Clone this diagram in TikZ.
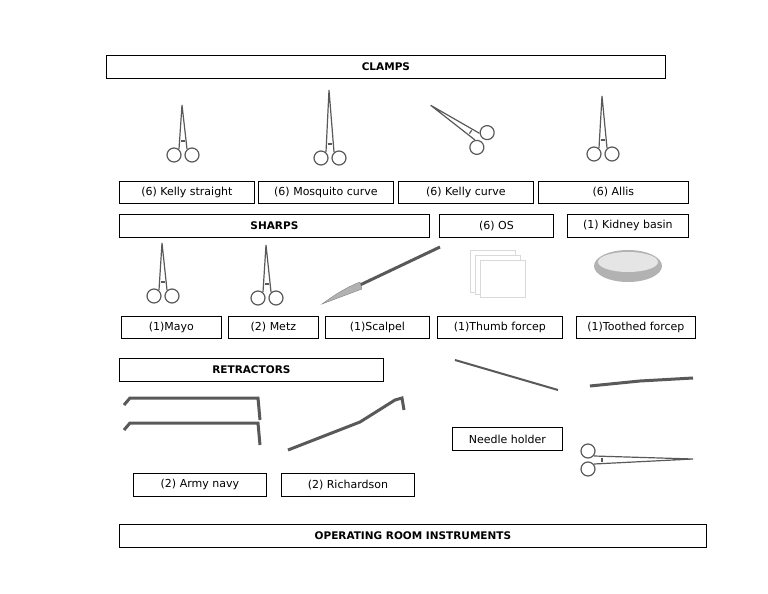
\documentclass[tikz,border=0pt]{standalone}
\usepackage{fontspec}
\setmainfont{DejaVu Sans}
\begin{document}
\begin{tikzpicture}[x=1pt,y=-1pt,
  lbl/.style={draw,thick,anchor=north west,inner sep=0pt,align=center,font=\fontsize{11}{13}\selectfont},
  hd/.style={lbl,font=\fontsize{10.5}{13}\selectfont\bfseries},
  inst/.style={draw=gray!70!black,line width=1.2pt,fill=none},
  clamp/.pic={\draw[inst] (-9,0) circle[radius=7]; \draw[inst] (9,0) circle[radius=7];
    \draw[inst] (-4,-6) -- (-1,-#1) -- (4,-6); \draw[inst] (-2,-14) -- (2,-14);},
  clamp/.default=50]
\useasboundingbox (0,0) rectangle (768,594);
% boxes
\node[hd,minimum width=559,minimum height=23] (clamps) at (106,55) {CLAMPS};
\node[lbl,minimum width=135,minimum height=22] (ks) at (119,181) {(6) Kelly straight};
\node[lbl,minimum width=135,minimum height=22] (mc) at (258,181) {(6) Mosquito curve};
\node[lbl,minimum width=135,minimum height=22] (kc) at (398,181) {(6) Kelly curve};
\node[lbl,minimum width=150,minimum height=22] (al) at (538,181) {(6) Allis};
\node[hd,minimum width=310,minimum height=23] (sharps) at (119,214) {SHARPS};
\node[lbl,minimum width=114,minimum height=23] (os) at (439,214) {(6) OS};
\node[lbl,minimum width=121,minimum height=23] (kb) at (567,214) {(1) Kidney basin};
\node[lbl,minimum width=100,minimum height=22] (mayo) at (121,316) {(1)Mayo};
\node[lbl,minimum width=90,minimum height=22] (metz) at (228,316) {(2) Metz};
\node[lbl,minimum width=104,minimum height=22] (sc) at (325,316) {(1)Scalpel};
\node[lbl,minimum width=125,minimum height=22] (tf) at (437,316) {(1)Thumb forcep};
\node[lbl,minimum width=119,minimum height=22] (tof) at (576,316) {(1)Toothed forcep};
\node[hd,minimum width=264,minimum height=23] (ret) at (119,358) {RETRACTORS};
\node[lbl,minimum width=110,minimum height=23] (nh) at (452,427) {Needle holder};
\node[lbl,minimum width=133,minimum height=23] (an) at (133,473) {(2) Army navy};
\node[lbl,minimum width=133,minimum height=23] (ri) at (281,473) {(2) Richardson};
\node[hd,minimum width=587,minimum height=23] (ori) at (119,524) {OPERATING ROOM INSTRUMENTS};
% instruments
\pic at (183,155) {clamp=50};
\pic at (330,158) {clamp=68};
\pic[rotate=55] at (482,140) {clamp=62};
\pic at (603,154) {clamp=58};
\pic at (163,296) {clamp=53};
\pic at (267,298) {clamp=53};
\draw[inst,line width=3pt] (360,285) -- (440,247);
\draw[fill=gray!60,draw=gray] (360,282) .. controls (340,290) and (328,300) .. (322,304) -- (362,289) -- cycle;
\foreach \d in {0,5,10}{\draw[gray!30,fill=white] (470+\d,250+\d) rectangle (515+\d,292+\d*0.5);}
\fill[gray!60] (628,266) ellipse[x radius=34,y radius=16];
\fill[gray!20] (628,262) ellipse[x radius=30,y radius=10];
\draw[inst,line width=2pt] (455,360) -- (558,390);
\draw[inst,line width=3pt] (590,386) -- (640,381) -- (693,378);
\pic[rotate=-90] at (588,460) {clamp=105};
\foreach \o in {0,25}{
  \draw[inst,line width=3pt] (124,405+\o) -- (130,398+\o) -- (258,398+\o) -- (260,420+\o);}
\draw[inst,line width=3pt] (288,450) -- (360,422) -- (395,400) -- (402,398) -- (404,410);
\end{tikzpicture}
\end{document}
